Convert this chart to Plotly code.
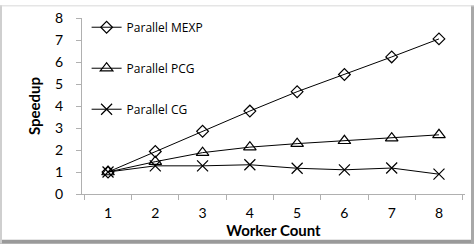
import plotly.graph_objects as go

workers = ["1", "2", "3", "4", "5", "6", "7", "8"]
mexp = [1.0, 1.93, 2.85, 3.77, 4.65, 5.43, 6.23, 7.05]
pcg = [1.0, 1.47, 1.88, 2.13, 2.29, 2.42, 2.54, 2.69]
cg = [1.0, 1.28, 1.28, 1.33, 1.17, 1.1, 1.18, 0.9]
series_names = ["Parallel MEXP", "Parallel PCG", "Parallel CG"]
y_ticks = [0, 1, 2, 3, 4, 5, 6, 7, 8]

W, H = 474, 245
ML, MR, MT, MB = 82, 9, 13, 51

symbols = ["diamond-open", "triangle-up-open", "x-thin-open"]
sizes = [9, 11, 11]
fig = go.Figure()
for name, vals, sym, sz in zip(series_names, [mexp, pcg, cg], symbols, sizes):
    fig.add_trace(go.Scatter(
        x=workers, y=vals, name=name, mode="lines+markers",
        legendgroup=name,
        line=dict(color="black", width=1),
        marker=dict(symbol=sym, size=sz, color="black",
                    line=dict(color="black", width=1.2)),
    ))

pw = W - ML - MR
ph = H - MT - MB
# outer frame
fig.add_shape(type="line", xref="paper", yref="paper",
              x0=-ML / pw, x1=(W - ML) / pw, y0=-(MB - 2) / ph, y1=-(MB - 2) / ph,
              line=dict(color="#9a9a9a", width=4))
fig.add_shape(type="line", xref="paper", yref="paper",
              x0=(pw + MR - 1.5) / pw, x1=(pw + MR - 1.5) / pw, y0=-MB / ph, y1=(ph + MT) / ph,
              line=dict(color="#a8a8a8", width=3))
fig.add_shape(type="line", xref="paper", yref="paper",
              x0=(-ML + 1) / pw, x1=(-ML + 1) / pw, y0=-MB / ph, y1=(ph + MT) / ph,
              line=dict(color="#cfcfcf", width=2))
fig.add_shape(type="line", xref="paper", yref="paper",
              x0=-ML / pw, x1=(W - ML) / pw, y0=(ph + MT - 0.5) / ph, y1=(ph + MT - 0.5) / ph,
              line=dict(color="#d8d8d8", width=1))

fig.update_layout(
    width=W, height=H,
    margin=dict(l=ML, r=MR, t=MT, b=MB),
    paper_bgcolor="white", plot_bgcolor="white",
    font=dict(family="Lato", color="black"),
    showlegend=True,
    legend=dict(x=0.012, y=1.03, xanchor="left", yanchor="top",
                bgcolor="rgba(0,0,0,0)", font=dict(size=12, family="Open Sans"),
                tracegroupgap=22, traceorder="grouped",
                itemwidth=30),
    xaxis=dict(type="category", tickson="boundaries", ticks="outside",
               ticklen=5, tickcolor="#b0b0b0", showline=True, linecolor="#b0b0b0",
               showgrid=False, tickfont=dict(size=14), ticklabelstandoff=6,
               title=dict(text="<b>Worker Count</b>", font=dict(size=15), standoff=0)),
    yaxis=dict(range=[0, 8], tickvals=y_ticks, ticks="outside", ticklen=5,
               tickcolor="#b0b0b0", showline=True, linecolor="#b0b0b0",
               showgrid=False, zeroline=False, tickfont=dict(size=14),
               ticklabelstandoff=10,
               title=dict(text="<b>Speedup</b>", font=dict(size=15), standoff=10)),
)

fig.write_html("out.html")
